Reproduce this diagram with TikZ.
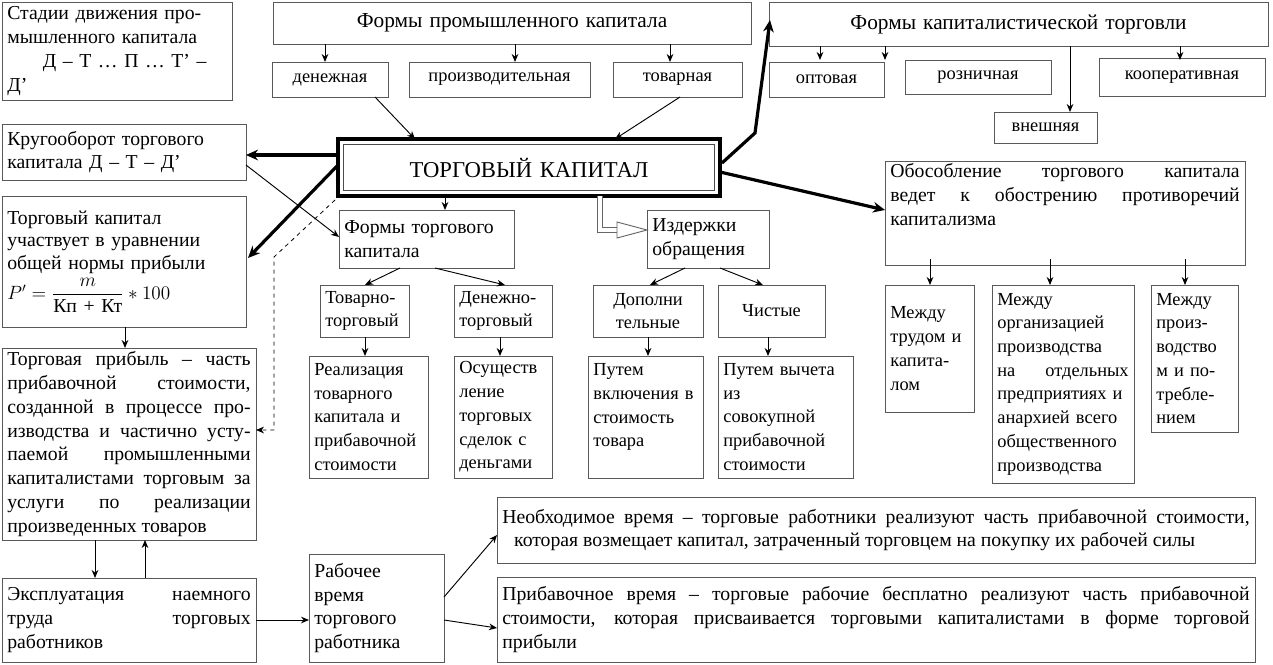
\documentclass[tikz,border=0pt]{standalone}
\usepackage{fontspec}
\setmainfont{Liberation Serif}
\usetikzlibrary{arrows.meta}
\tikzset{
 box/.style={draw=black!65,line width=0.7pt,inner xsep=4pt,inner ysep=2pt,outer sep=0pt,align=center,font=\fontsize{14.8}{17.8}\selectfont},
 sm/.style={font=\fontsize{13.8}{17.8}\selectfont},
 arr/.style={-{Stealth[length=6pt,width=5pt]},line width=0.7pt},
 thk/.style={-{Stealth[length=9pt,width=8pt]},line width=2.4pt},
}
\newcommand\bx[7][]{%
 \pgfmathsetmacro\bw{(#5-#3)*0.75}\pgfmathsetmacro\bh{(#6-#4)*0.75}\pgfmathsetmacro\tw{\bw-8}%
 \node[box,minimum width=\bw pt,minimum height=\bh pt,text width=\tw pt,#1] (#2) at ({(#3+#5)/2},{(#4+#6)/2}) {#7};}
\begin{document}
\begin{tikzpicture}[x=0.75pt,y=-0.75pt]
\useasboundingbox (0,0) rectangle (1273,664);
\bx[align=left]{stages}{2}{2}{232}{100}{Стадии движения про-\\мышленного капитала\\\hspace*{1.8em}Д – Т … П … Т’ – Д’}
\bx[font=\fontsize{16}{18}\selectfont]{fi}{273}{2}{751}{44}{Формы промышленного капитала}
\bx[sm]{den}{272}{62}{388}{97}{денежная}
\bx[sm]{proiz}{409}{62}{590}{97}{производительная}
\bx[sm]{tov}{613}{62}{742}{97}{товарная}
\bx[font=\fontsize{16}{18}\selectfont]{ft}{769}{2}{1268}{46}{Формы капиталистической торговли}
\bx[sm]{opt}{769}{62}{884}{97}{оптовая}
\bx[sm]{rozn}{905}{60}{1051}{94}{розничная}
\bx[sm]{koop}{1099}{58}{1265}{96}{кооперативная}
\bx[sm]{vnesh}{994}{112}{1097}{143}{внешняя}
\bx[font=\fontsize{17}{18}\selectfont,line width=3pt,draw=black]{main}{338}{139}{720}{196}{ТОРГОВЫЙ КАПИТАЛ}
\draw[black!70,line width=0.8pt] ([shift={(4pt,-4pt)}]main.north west) rectangle ([shift={(-4pt,4pt)}]main.south east);
\bx[align=left]{krug}{2}{124}{246}{180}{Кругооборот торгового\\капитала Д – Т – Д’}
\bx[align=left,font=\fontsize{14.8}{17}\selectfont]{uch}{2}{196}{246}{327}{Торговый капитал\\участвует в уравнении\\общей нормы прибыли\\[2pt]$P' = \displaystyle\frac{m}{\mbox{Кп + Кт}} * 100$}
\bx[align=justify]{prib}{2}{348}{256}{540}{Торговая прибыль – часть\linebreak прибавочной стоимости,\linebreak созданной в процессе про-\linebreak изводства и частично усту-\linebreak паемой промышленными\linebreak капиталистами торговым за\linebreak услуги по реализации\linebreak произведенных товаров}
\bx[align=justify]{eks}{2}{578}{256}{662}{Эксплуатация наемного\linebreak труда торговых\linebreak работников}
\bx[align=left]{fto}{339}{210}{514}{268}{Формы торгового\\капитала}
\bx[align=left]{izd}{647}{210}{769}{268}{Издержки\\обращения}
\bx[align=left,sm]{tt}{320}{285}{409}{337}{Товарно-\\торговый}
\bx[align=left,sm]{dt}{454}{285}{552}{337}{Денежно-\\торговый}
\bx[sm]{dop}{593}{285}{703}{337}{Дополни\\тельные}
\bx[sm]{chist}{718}{285}{825}{337}{Чистые}
\bx[align=left,sm]{real}{309}{356}{428}{478}{Реализация\\товарного\\капитала и\\прибавочной\\стоимости}
\bx[align=left,sm]{osu}{454}{356}{552}{478}{Осуществ\\ление\\торговых\\сделок с\\деньгами}
\bx[align=left,sm]{vkl}{588}{356}{703}{478}{Путем\\включения в\\стоимость\\товара\\\mbox{}}
\bx[align=left,sm]{vych}{718}{356}{853}{478}{Путем вычета\\из\\совокупной\\прибавочной\\стоимости}
\bx[align=justify]{obo}{885}{167}{1245}{259}{Обособление торгового капитала\linebreak ведет к обострению противоречий\linebreak капитализма\\[10pt]}
\bx[align=left,sm]{mt}{885}{285}{974}{412}{Между\\трудом и\\капита-\\лом}
\bx[align=left,sm]{mo}{992}{285}{1134}{483}{Между\\организацией\\производства\\на\hfill отдельных\\предприятиях и\\анархией всего\\общественного\\производства}
\bx[align=left,sm]{mp}{1151}{285}{1238}{432}{Между\\произ-\\водство\\м и по-\\требле-\\нием}
\bx[align=left]{rab}{309}{554}{444}{662}{Рабочее\\время\\торгового\\работника}
\bx[align=justify]{neo}{497}{497}{1255}{563}{Необходимое время – торговые работники реализуют часть прибавочной стоимости,\linebreak \hspace*{0.6em}которая возмещает капитал, затраченный торговцем на покупку их рабочей силы}
\bx[align=justify]{pv}{497}{577}{1255}{662}{Прибавочное время – торговые рабочие бесплатно реализуют часть прибавочной\linebreak стоимости, которая присваивается торговыми капиталистами в форме торговой\linebreak прибыли}
% arrows
\foreach \x in {325,515,670}{\draw[arr] (\x,44) -- (\x,62);}
\draw[arr] (375,97) -- (415,139);
\draw[arr] (680,97) -- (615,139);
\foreach \x in {820,885,1180}{\draw[arr] (\x,46) -- (\x,60);}
\draw[arr] (1070,46) -- (vnesh.north-|1070,0);
\draw[thk] (722,163) -- (755,133) -- (770,20);
\draw[thk] (720,172) -- (obo.west|-0,210);
\draw[thk] (main.west|-0,155) -- (krug.east|-0,155);
\draw[thk] (338,165) -- (248,258);
\draw[arr] (246,165) -- (fto.west|-0,237);
\draw[dashed,-{Stealth[length=6pt,width=5pt]},line width=0.6pt] (335,200) -- (274,257) -- (274,430) -- (prib.east|-0,430);
\draw[arr] (445,196) -- (fto.north-|445,0);
\draw[double=white,draw=black!60,double distance=3pt,line width=0.7pt] (600,196) -- (600,230) -- (618,230);
\draw[draw=black!60,fill=white,line width=0.7pt] (617,222) -- (617,238) -- (647,230) -- cycle;
\draw[arr] (400,268) -- (365,285);
\draw[arr] (435,268) -- (505,285);
\draw[arr] (685,268) -- (650,285);
\draw[arr] (720,268) -- (763,285);
\draw[arr] (365,337) -- (365,356);
\draw[arr] (500,337) -- (500,356);
\draw[arr] (648,337) -- (648,356);
\draw[arr] (768,337) -- (768,356);
\foreach \x in {930,1050,1185}{\draw[arr] (\x,259) -- (\x,285);}
\draw[arr] (125,327) -- (125,348);
\draw[arr] (95,540) -- (95,578);
\draw[arr] (145,578) -- (145,540);
\draw[arr] (eks.east|-0,620) -- (rab.west|-0,620);
\draw[arr] (444,597) -- (497,535);
\draw[arr] (444,620) -- (497,628);
\end{tikzpicture}
\end{document}
